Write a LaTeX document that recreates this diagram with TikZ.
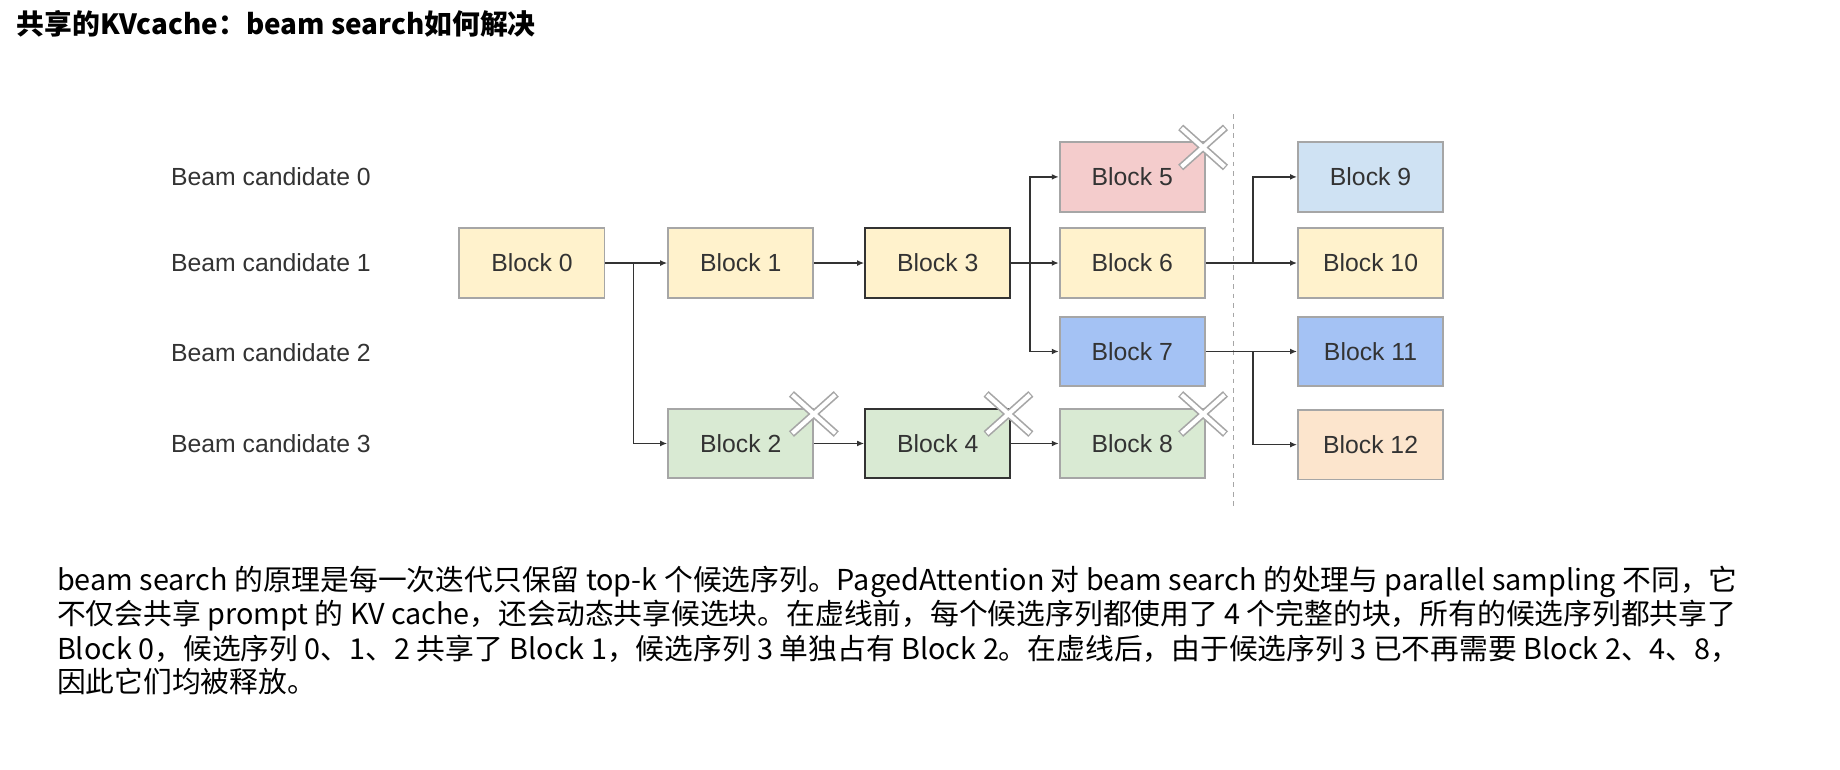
\documentclass[tikz,border=0pt]{standalone}
\usepackage{fontspec}
\setmainfont{Noto Sans CJK SC}
\newfontfamily\lat{Liberation Sans}
\usetikzlibrary{arrows.meta,calc}
\definecolor{cy}{HTML}{FFF2CC}
\definecolor{cr}{HTML}{F4CCCC}
\definecolor{cb}{HTML}{CFE2F3}
\definecolor{cB}{HTML}{A4C2F4}
\definecolor{cg}{HTML}{D9EAD3}
\definecolor{co}{HTML}{FCE5CD}
\tikzset{
 blk/.style={draw=gray!70, line width=0.8pt, minimum width=61.5pt, minimum height=29.5pt, inner sep=0pt, font=\lat\fontsize{10.5}{12}\selectfont, text=black!80},
 dk/.style={draw=black!80},
 lab/.style={anchor=west, font=\lat\fontsize{10.5}{12}\selectfont, text=black!80},
 con/.style={draw=black!80, line width=0.6pt},
 arr/.style={con, -{Latex[length=3pt,width=2.5pt]}},
 para/.style={anchor=west, font=\fontsize{12.2}{14}\selectfont, inner sep=0pt},
}
\newcommand{\xmark}[1]{%
 \draw[gray!70, line width=3.2pt] ($(#1)+(-19,-17)$) -- ($(#1)+(19,17)$) ($(#1)+(-19,17)$) -- ($(#1)+(19,-17)$);
 \draw[white, line width=1.8pt] ($(#1)+(-18.2,-16.3)$) -- ($(#1)+(18.2,16.3)$) ($(#1)+(-18.2,16.3)$) -- ($(#1)+(18.2,-16.3)$);}
\begin{document}
\begin{tikzpicture}[x=0.5pt,y=-0.5pt]
\useasboundingbox[fill=white] (0,0) rectangle (1560,652);
\node[anchor=west, font=\bfseries\fontsize{11.8}{14}\selectfont, inner sep=0pt] (title) at (14,20) {共享的KVcache：beam search如何解决};
\node[lab] (l0) at (138,150) {Beam candidate 0};
\node[lab] (l1) at (138,223) {Beam candidate 1};
\node[lab] (l2) at (138,299) {Beam candidate 2};
\node[lab] (l3) at (138,376) {Beam candidate 3};
\draw[gray!70, line width=0.6pt, dash pattern=on 2pt off 2pt] (1046,97) coordinate (d1) -- (1046,430) coordinate (d2);
\node[blk, fill=cy] (b0) at (451,223) {Block 0};
\node[blk, fill=cy] (b1) at (628,223) {Block 1};
\node[blk, fill=cy, dk] (b3) at (795,223) {Block 3};
\node[blk, fill=cr] (b5) at (960,150) {Block 5};
\node[blk, fill=cy] (b6) at (960,223) {Block 6};
\node[blk, fill=cB] (b7) at (960,298) {Block 7};
\node[blk, fill=cg] (b2) at (628,376) {Block 2};
\node[blk, fill=cg, dk] (b4) at (795,376) {Block 4};
\node[blk, fill=cg] (b8) at (960,376) {Block 8};
\node[blk, fill=cb] (b9) at (1162,150) {Block 9};
\node[blk, fill=cy] (b10) at (1162,223) {Block 10};
\node[blk, fill=cB] (b11) at (1162,298) {Block 11};
\node[blk, fill=co] (b12) at (1162,377) {Block 12};
\draw[arr] (b0.east) -- (b1.west);
\draw[arr] (b0.east) -- ++(24,0) |- (b2.west);
\draw[arr] (b1.east) -- (b3.west);
\draw[arr] (b3.east) -- (b6.west);
\draw[arr] (b3.east) -- ++(16,0) |- (b5.west);
\draw[arr] (b3.east) -- ++(16,0) |- (b7.west);
\draw[arr] (b2.east) -- (b4.west);
\draw[arr] (b4.east) -- (b8.west);
\draw[arr] (b6.east) -- (b10.west);
\draw[arr] (b6.east) -- ++(40,0) |- (b9.west);
\draw[arr] (b7.east) -- (b11.west);
\draw[arr] (b7.east) -- ++(40,0) |- (b12.west);
\xmark{1020,125}
\xmark{690,351}
\xmark{855,351}
\xmark{1020,351}
\node[para] (p1) at (48,493) {beam search 的原理是每一次迭代只保留 top-k 个候选序列。PagedAttention 对 beam search 的处理与 parallel sampling 不同，它};
\node[para] (p2) at (48,522) {不仅会共享 prompt 的 KV cache，还会动态共享候选块。在虚线前，每个候选序列都使用了 4 个完整的块，所有的候选序列都共享了};
\node[para] (p3) at (48,550) {Block 0，候选序列 0、1、2 共享了 Block 1，候选序列 3 单独占有 Block 2。在虚线后，由于候选序列 3 已不再需要 Block 2、4、8，};
\node[para] (p4) at (48,578) {因此它们均被释放。};
\end{tikzpicture}
\end{document}
